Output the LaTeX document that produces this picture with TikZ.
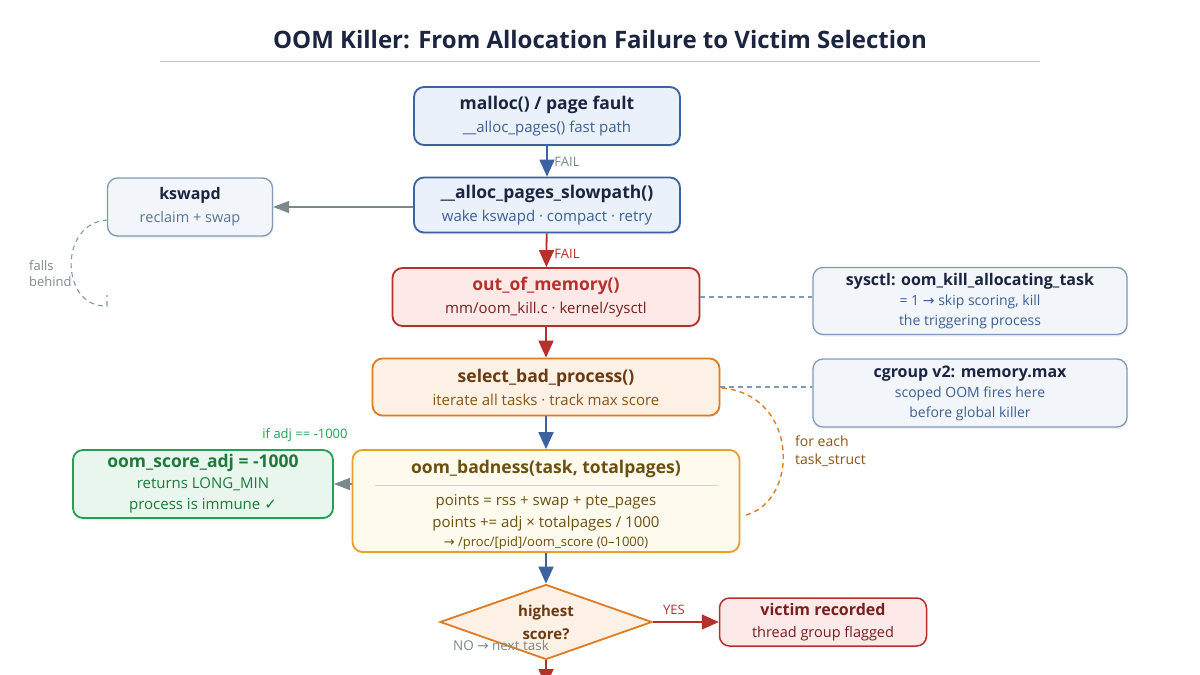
\documentclass[tikz,border=0pt]{standalone}
\usepackage{fontspec}
\setmainfont{Open Sans}
\newfontfamily\symfont{DejaVu Sans}
\usetikzlibrary{arrows.meta, shapes.geometric, shadows}

\definecolor{navy}{HTML}{1B2540}
\definecolor{bluebd}{HTML}{3D62A0}
\definecolor{bluefill}{HTML}{EAF1FA}
\definecolor{bluetxt}{HTML}{3D5F95}
\definecolor{graybd}{HTML}{7F9AB8}
\definecolor{grayfill}{HTML}{F2F5F9}
\definecolor{graytxt}{HTML}{5C7391}
\definecolor{redbd}{HTML}{B7312C}
\definecolor{redfill}{HTML}{FCE9E8}
\definecolor{reddk}{HTML}{7A1F1F}
\definecolor{orbd}{HTML}{E07B22}
\definecolor{orfill}{HTML}{FDF0E5}
\definecolor{ortxt}{HTML}{6B3A12}
\definecolor{orsub}{HTML}{8A5515}
\definecolor{ylbd}{HTML}{E9A02A}
\definecolor{ylfill}{HTML}{FFFAEE}
\definecolor{yltxt}{HTML}{6B5010}
\definecolor{ylsep}{HTML}{F2D566}
\definecolor{grbd}{HTML}{23A052}
\definecolor{grfill}{HTML}{E8F6EE}
\definecolor{grtxt}{HTML}{1E7A3C}
\definecolor{arrgray}{HTML}{7A8A8C}
\definecolor{rulegray}{HTML}{B8C6D6}
\definecolor{dashgray}{HTML}{7F9AB8}

\newcommand{\ttl}[1]{{\fontsize{17.5}{22}\selectfont\bfseries #1}}
\newcommand{\sttl}[1]{{\fontsize{16}{20}\selectfont\bfseries #1}}

\begin{document}
\begin{tikzpicture}[x=1pt, y=-1pt,
    box/.style={rounded corners=10pt, line width=1.8pt, align=center, inner sep=0pt,
      font=\fontsize{15}{23}\selectfont,
      drop shadow={opacity=0.10, shadow xshift=1pt, shadow yshift=-2pt}},
    bluebox/.style={box, draw=bluebd, fill=bluefill, text=bluetxt},
    graybox/.style={box, draw=graybd, fill=grayfill, text=bluetxt, line width=1.3pt,
      font=\fontsize{14}{20}\selectfont},
    redbox/.style={box, draw=redbd, fill=redfill, text=reddk},
    orbox/.style={box, draw=orbd, fill=orfill, text=orsub},
    ylbox/.style={box, draw=ylbd, fill=ylfill, text=yltxt},
    grbox/.style={box, draw=grbd, fill=grfill, text=grtxt, font=\fontsize{15}{21}\selectfont},
    flow/.style={line width=1.8pt, -{Triangle[length=17pt, width=15pt]}},
    side/.style={line width=1.3pt, arrgray, -{Triangle[length=16pt, width=12pt]}},
    note/.style={dashgray, line width=1.1pt, dash pattern=on 5pt off 4pt},
    lbl/.style={font=\fontsize{13}{16}\selectfont, inner sep=0pt}]
  \useasboundingbox (0,0) rectangle (1200,675);
  \fill[white] (0,0) rectangle (1200,675);

  % title
  \node (title) at (600,40) {\fontsize{24}{28}\selectfont\bfseries\color{navy}OOM Killer: From Allocation Failure to Victim Selection};
  \draw[rulegray, line width=1pt] (160,61) -- (1040,61);

  % main column
  \node[bluebox, minimum width=266pt, minimum height=58pt] (malloc) at (547,116)
    {{\color{navy}\ttl{malloc() / page fault}}\\\_\_alloc\_pages() fast path};
  \node[bluebox, minimum width=266pt, minimum height=55pt] (slow) at (547,205)
    {{\color{navy}\ttl{\_\_alloc\_pages\_slowpath()}}\\wake kswapd · compact · retry};
  \node[redbox, minimum width=307pt, minimum height=58pt] (oom) at (546,297)
    {{\color{redbd}\ttl{out\_of\_memory()}}\\mm/oom\_kill.c · kernel/sysctl};
  \node[orbox, minimum width=347pt, minimum height=57pt] (sel) at (546,387)
    {{\color{ortxt}\ttl{select\_bad\_process()}}\\iterate all tasks · track max score};
  \node[ylbox, minimum width=387pt, minimum height=102pt] (bad) at (546,501) {};
  \node[text=yltxt] (badt) at (546,469) {\ttl{oom\_badness(task, totalpages)}};
  \draw[ylsep, line width=1pt] (375,485) -- (718,485);
  \node[text=yltxt, align=center, font=\fontsize{15}{22}\selectfont] (badb) at (546,513)
    {points = rss + swap + pte\_pages\\points += adj × totalpages / 1000};
  \node[text=yltxt, font=\fontsize{13}{16}\selectfont] (bads) at (546,543)
    {{\symfont →} /proc/[pid]/oom\_score (0–1000)};
  \node[diamond, aspect=2.8, draw=orbd, fill=orfill, line width=1.8pt, inner sep=0pt,
    minimum width=212pt, minimum height=75pt, align=center, text=ortxt,
    font=\fontsize{15}{23}\selectfont\bfseries] (top) at (546,622) {highest\\score?};

  % side boxes
  \node[graybox, minimum width=165pt, minimum height=58pt, font=\fontsize{14.5}{23}\selectfont,
    text=graytxt] (ks) at (190,207) {{\color{navy}\sttl{kswapd}}\\reclaim + swap};
  \node[graybox, minimum width=314pt, minimum height=67pt] (sys) at (970,301)
    {{\color{navy}\sttl{sysctl: oom\_kill\_allocating\_task}}\\= 1 {\symfont →} skip scoring, kill\\the triggering process};
  \node[graybox, minimum width=314pt, minimum height=68pt] (cg) at (970,393)
    {{\color{navy}\sttl{cgroup v2: memory.max}}\\scoped OOM fires here\\before global killer};
  \node[grbox, minimum width=260pt, minimum height=68pt] (adj) at (203,484)
    {\ttl{oom\_score\_adj = -1000}\\returns LONG\_MIN\\process is immune {\symfont ✓}};
  \node[redbox, minimum width=207pt, minimum height=48pt, line width=1.5pt,
    font=\fontsize{14.5}{22}\selectfont] (vic) at (823,622)
    {\sttl{victim recorded}\\thread group flagged};

  % arrows down the column
  \draw[flow, bluebd] (malloc) -- (slow);
  \draw[flow, redbd] (slow) -- (oom);
  \draw[flow, redbd] (oom) -- (sel);
  \draw[flow, bluebd] (sel) -- (bad);
  \draw[flow, bluebd] (bad) -- (top);
  \draw[flow, redbd] (top.south) -- (546,686);
  \draw[flow, redbd, line width=1.5pt] (top.east) -- (vic.west);
  \node[lbl, text=arrgray] (fail1) at (567,162) {FAIL};
  \node[lbl, text=redbd] (fail2) at (567,254) {FAIL};
  \node[lbl, text=redbd] (yes) at (674,610) {YES};
  \node[lbl, text=arrgray, font=\fontsize{13.5}{16}\selectfont] (no) at (501,645) {NO {\symfont →} next task};

  % side arrows
  \draw[side] (slow.west |- ks.east) -- (ks.east);
  \draw[side] (bad.west |- adj.east) -- (adj.east);
  \node[lbl, text=grbd] (ifadj) at (305,435) {if adj == -1000};

  % dashed notes
  \draw[note] (oom.east) -- (oom.east -| sys.west);
  \draw[note] (sel.east) -- (sel.east -| cg.west);
  \draw[note] (108,220) .. controls (58,222) and (60,308) .. (107,306) -- (107,295);
  \node[lbl, text=arrgray, align=left, anchor=west, font=\fontsize{13}{16}\selectfont] (falls) at (29,274) {falls\\behind};
  \draw[orbd, line width=1.4pt, dash pattern=on 5pt off 4pt] (722,388) .. controls (800,395) and (800,505) .. (742,516);
  \node[lbl, text=orsub, align=left, anchor=west, font=\fontsize{14}{18}\selectfont] (each) at (795,451) {for each\\task\_struct};
\end{tikzpicture}
\end{document}
